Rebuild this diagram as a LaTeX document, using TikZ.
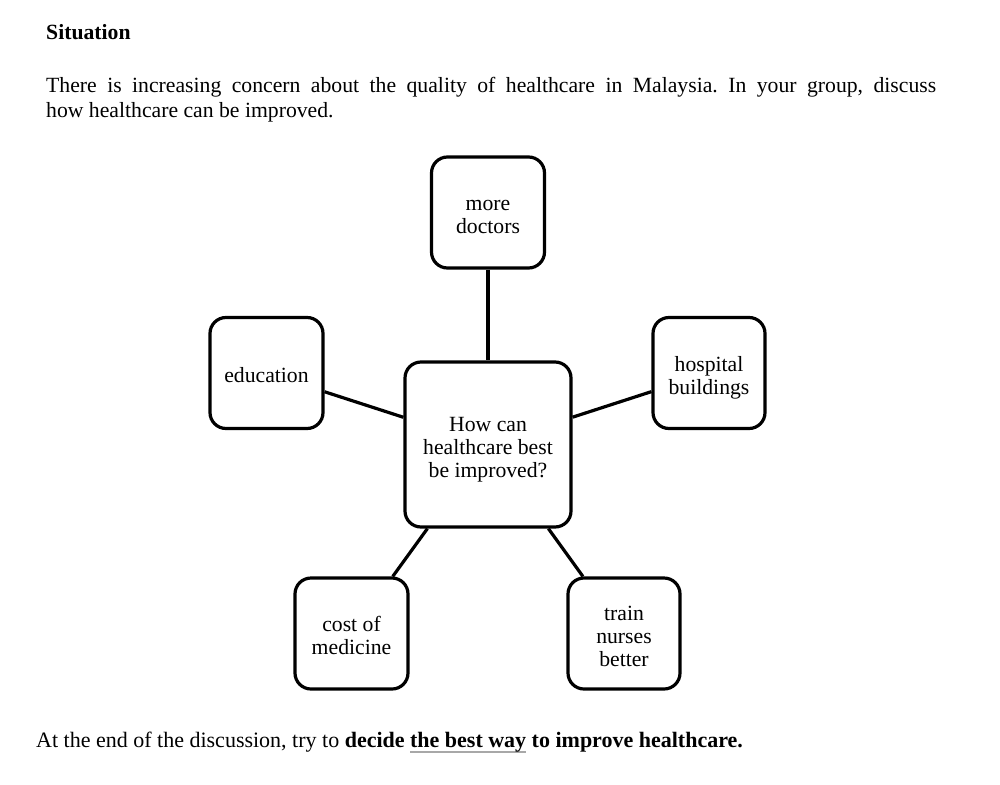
\documentclass[tikz,border=0pt]{standalone}
\usepackage{fontspec}
\setmainfont{Liberation Serif}
\usepackage{xcolor}
\definecolor{ulgray}{HTML}{A8A8A8}
\newcommand\grayul[1]{\setbox0\hbox{#1}\rlap{\textcolor{ulgray}{\rule[-6pt]{\wd0}{2pt}}}\box0\relax}
\newcommand\lnTop{\rule{0pt}{23.7pt}}
\newcommand\lnBot{\rule[-4.7pt]{0pt}{4.7pt}}
\frenchspacing
\begin{document}
\begin{tikzpicture}[x=1pt,y=-1pt,
  idea/.style={draw=black, line width=3.2pt, rounded corners=16pt, align=center,
    font=\fontsize{21.7pt}{23pt}\selectfont, inner sep=2pt},
  small/.style={idea, minimum width=113pt, minimum height=111pt},
  big/.style={idea, minimum width=166pt, minimum height=165pt},
  link/.style={line width=3.2pt, black},
  txt/.style={anchor=base west, inner sep=0pt, font=\fontsize{21.7pt}{25pt}\selectfont}]
\useasboundingbox (0,0) rectangle (1000,784);
\fill[white] (0,0) rectangle (1000,784);

\node[txt] (title) at (46,40) {\textbf{Situation}};
\node[txt] (para1) at (46,92) {\makebox[890pt][s]{There is increasing concern about the quality of healthcare in Malaysia. In your group, discuss}};
\node[txt] (para2) at (46,117) {how healthcare can be improved.};

\node[big] (center) at (488,444.5) {\lnTop How can\\healthcare best\\be improved?\lnBot};
\node[small] (more) at (488,212.5) {\lnTop more\\doctors\lnBot};
\node[small] (edu) at (266.5,373) {\lnTop education\lnBot};
\node[small, minimum width=112pt] (hosp) at (709,373) {\lnTop hospital\\buildings\lnBot};
\node[small] (cost) at (351.5,633.5) {\lnTop cost of\\medicine\lnBot};
\node[small, minimum width=112pt] (train) at (624,633.5) {\lnTop train\\nurses\\better\lnBot};

\draw[link] (more) -- (center);
\draw[link] (edu) -- (center);
\draw[link] (hosp) -- (center);
\draw[link] (cost) -- (center);
\draw[link] (train) -- (center);

\node[txt, font=\fontsize{22.0pt}{25pt}\selectfont] (closing) at (36,747) {At the end of the discussion, try to \textbf{decide \grayul{the best way} to improve healthcare.}};
\end{tikzpicture}
\end{document}
